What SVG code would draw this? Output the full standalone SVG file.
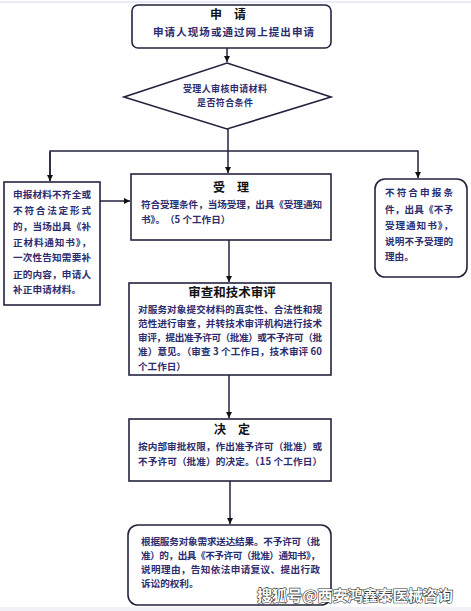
<svg xmlns="http://www.w3.org/2000/svg" width="471" height="611" viewBox="0 0 471 611">
<style>
.box{fill:#fff;stroke:#23233f;stroke-width:1.6}
.ln{fill:none;stroke:#23233f;stroke-width:1.5}
.t{font-family:"Noto Sans CJK SC","Noto Sans",sans-serif;font-weight:bold;fill:#2c2c6e;font-size:9.6px}
.h{font-family:"Noto Sans CJK SC","Noto Sans",sans-serif;font-weight:bold;fill:#111;font-size:12px;text-anchor:middle}
.wm{font-family:"Noto Sans CJK SC","Noto Sans",sans-serif;font-weight:bold;font-size:15px;fill:#fff;stroke:#333;stroke-width:1.2;paint-order:stroke}
</style>
<defs>
<marker id="ah" viewBox="0 0 10 10" refX="10" refY="5" markerWidth="6" markerHeight="6" orient="auto" markerUnits="userSpaceOnUse">
<path d="M0,0 L10,5 L0,10 z" fill="#111"/>
</marker>
</defs>
<rect x="0" y="0" width="471" height="611" fill="#fff"/>
<line x1="0" y1="2" x2="471" y2="2" stroke="#d4d6f4" stroke-width="1"/>
<rect x="0" y="607" width="471" height="4" fill="#f1f1f7"/>

<g id="connectors">
<line class="ln" x1="227" y1="48" x2="227" y2="62" marker-end="url(#ah)"/>
<line class="ln" x1="228" y1="129" x2="228" y2="173" marker-end="url(#ah)"/>
<polyline class="ln" points="50,181 50,151 418,151 418,178" marker-end="url(#ah)"/>
<line class="ln" x1="50" y1="152" x2="50" y2="181" marker-end="url(#ah)"/>
<line class="ln" x1="100" y1="201" x2="130" y2="201" marker-end="url(#ah)"/>
<line class="ln" x1="229" y1="240" x2="229" y2="282" marker-end="url(#ah)"/>
<line class="ln" x1="229" y1="375" x2="229" y2="418" marker-end="url(#ah)"/>
<line class="ln" x1="230" y1="481" x2="230" y2="524" marker-end="url(#ah)"/>
</g>

<g id="apply">
<rect class="box" x="132" y="5" width="199" height="43" rx="6"/>
<text class="h" x="228" y="19">申　请</text>
<text class="t" x="153" y="36" textLength="161" lengthAdjust="spacing" style="font-size:10.5px">申请人现场或通过网上提出申请</text>
</g>

<g id="check">
<polygon class="box" points="227,63 331,97 227,129 124,97"/>
<text class="t" x="183" y="92" textLength="84" lengthAdjust="spacing" style="font-size:9px">受理人审核申请材料</text>
<text class="t" x="197" y="106" textLength="56" lengthAdjust="spacing" style="font-size:9px">是否符合条件</text>
</g>

<g id="supplement">
<rect class="box" x="4" y="182" width="96" height="123"/>
<text class="t" x="13" y="198" textLength="78" lengthAdjust="spacing">申报材料不齐全或</text>
<text class="t" x="13" y="214" textLength="78" lengthAdjust="spacing">不符合法定形式</text>
<text class="t" x="13" y="230" textLength="78" lengthAdjust="spacing">的，当场出具《补</text>
<text class="t" x="13" y="246" textLength="78" lengthAdjust="spacing">正材料通知书》，</text>
<text class="t" x="13" y="261" textLength="78" lengthAdjust="spacing">一次性告知需要补</text>
<text class="t" x="13" y="278" textLength="78" lengthAdjust="spacing">正的内容，申请人</text>
<text class="t" x="13" y="293" textLength="68" lengthAdjust="spacing">补正申请材料。</text>
</g>

<g id="accept">
<rect class="box" x="131" y="174" width="200" height="66"/>
<text class="h" x="231" y="192">受　理</text>
<text class="t" x="141" y="208" textLength="181" lengthAdjust="spacing">符合受理条件，当场受理，出具《受理通知</text>
<text class="t" x="141" y="223">书》。　（5 个工作日）</text>
</g>

<g id="reject">
<rect class="box" x="375" y="179" width="92" height="98" rx="10"/>
<text class="t" x="385" y="196" textLength="68" lengthAdjust="spacing">不符合申报条</text>
<text class="t" x="385" y="213" textLength="68" lengthAdjust="spacing">件，出具《不予</text>
<text class="t" x="385" y="229" textLength="68" lengthAdjust="spacing">受理通知书》，</text>
<text class="t" x="385" y="245" textLength="68" lengthAdjust="spacing">说明不予受理的</text>
<text class="t" x="385" y="260">理由。</text>
</g>

<g id="review">
<rect class="box" x="129" y="283" width="202" height="92"/>
<text class="h" x="232" y="297" style="font-size:12.5px">审查和技术审评</text>
<text class="t" x="138" y="313" textLength="184" lengthAdjust="spacing">对服务对象提交材料的真实性、合法性和规</text>
<text class="t" x="138" y="327" textLength="184" lengthAdjust="spacing">范性进行审查，并转技术审评机构进行技术</text>
<text class="t" x="138" y="341" textLength="184" lengthAdjust="spacing">审评，提出准予许可（批准）或不予许可（批</text>
<text class="t" x="138" y="355" textLength="184" lengthAdjust="spacing">准）意见。（审查 3 个工作日，技术审评 60</text>
<text class="t" x="138" y="370">个工作日）</text>
</g>

<g id="decide">
<rect class="box" x="129" y="419" width="202" height="62"/>
<text class="h" x="232" y="434">决　定</text>
<text class="t" x="138" y="450" textLength="184" lengthAdjust="spacing">按内部审批权限，作出准予许可（批准）或</text>
<text class="t" x="138" y="465" textLength="184" lengthAdjust="spacing">不予许可（批准）的决定。（15 个工作日）</text>
</g>

<g id="deliver">
<rect class="box" x="128" y="525" width="203" height="80" rx="10"/>
<text class="t" x="141" y="545" textLength="179" lengthAdjust="spacing">根据服务对象需求送达结果。不予许可（批</text>
<text class="t" x="141" y="559" textLength="179" lengthAdjust="spacing">准）的，出具《不予许可（批准）通知书》，</text>
<text class="t" x="141" y="573" textLength="179" lengthAdjust="spacing">说明理由，告知依法申请复议、提出行政</text>
<text class="t" x="141" y="587">诉讼的权利。</text>
</g>

<text class="wm" x="257" y="601" textLength="196" lengthAdjust="spacingAndGlyphs">搜狐号@西安鸿鑫泰医械咨询</text>
</svg>
